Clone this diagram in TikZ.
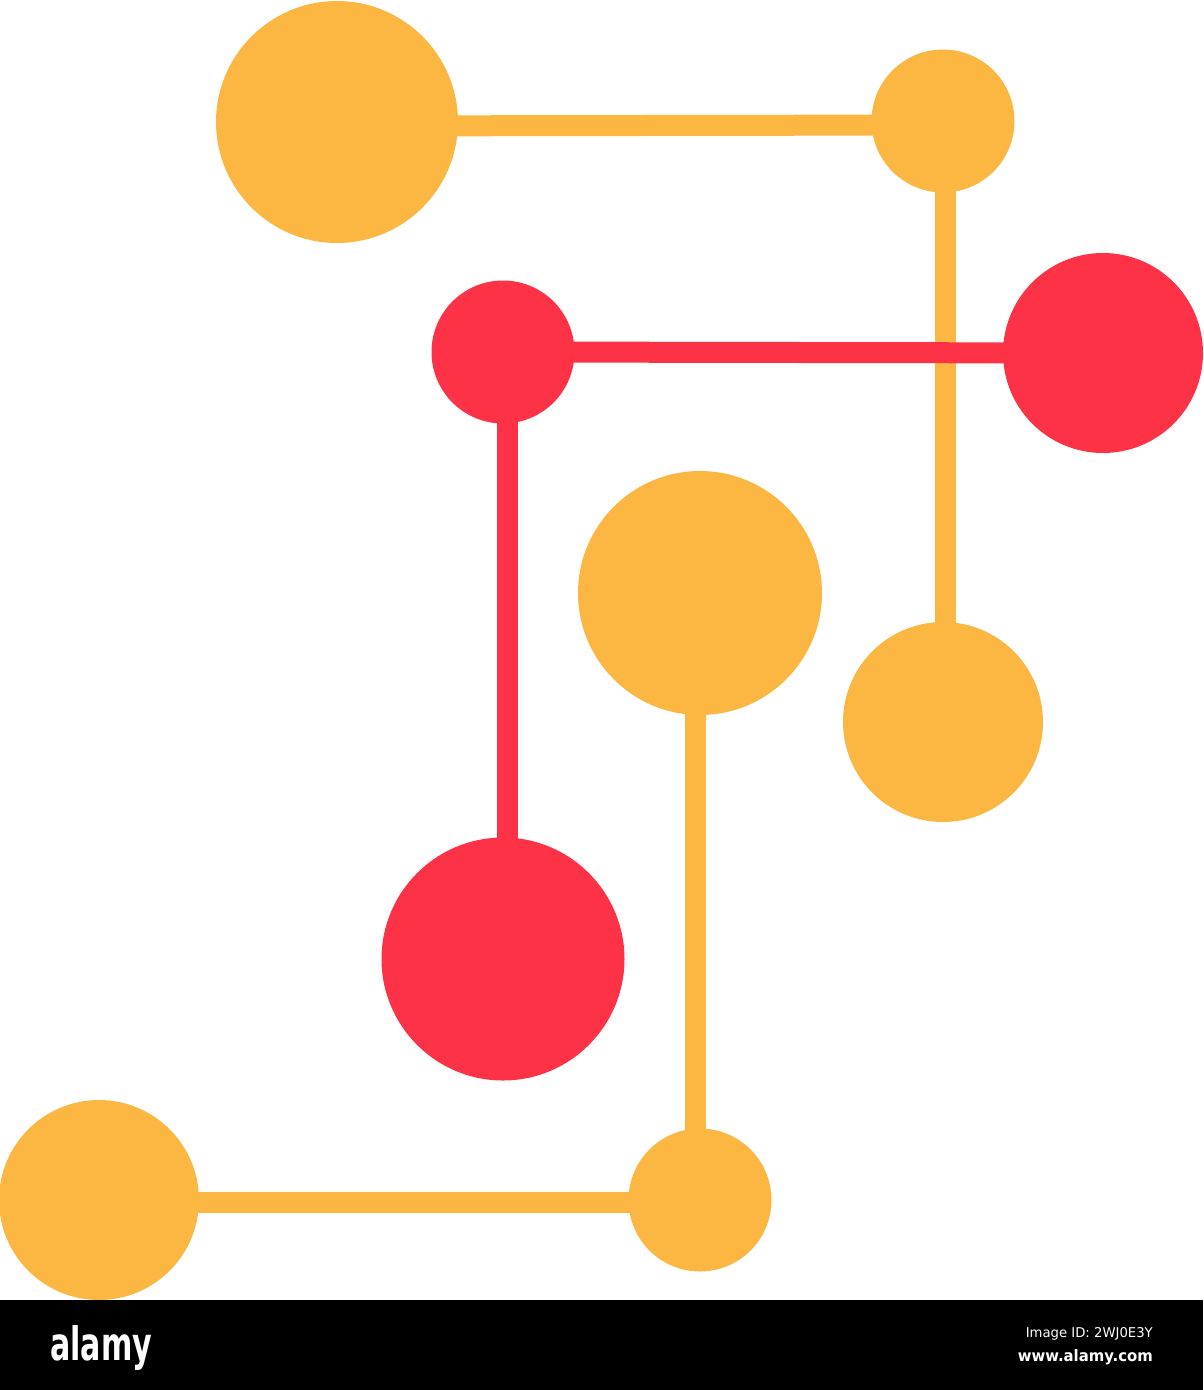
\documentclass[tikz,border=0pt]{standalone}
\usepackage{fontspec}
\usepackage{graphicx}
\newfontfamily\wmfont{DejaVu Sans}
\usetikzlibrary{backgrounds}
\definecolor{dotyellow}{RGB}{252,183,66}
\definecolor{dotred}{RGB}{254,50,70}
\tikzset{
  dot/.style={circle, inner sep=0pt, outer sep=0pt, minimum size=#1},
  ydot/.style={dot=#1, fill=dotyellow},
  rdot/.style={dot=#1, fill=dotred},
  ylink/.style={draw=dotyellow, line width=21pt},
  rlink/.style={draw=dotred, line width=21pt},
}
\begin{document}
\begin{tikzpicture}[x=1pt,y=-1pt]
\useasboundingbox (0,0) rectangle (1203,1390);
% dots
\node[ydot=242pt] (c1) at (337,122) {};
\node[ydot=143pt] (c2) at (943,121) {};
\node[rdot=143pt] (c3) at (503,352) {};
\node[rdot=200pt] (c4) at (1103,353) {};
\node[ydot=244pt] (c5) at (700,593) {};
\node[ydot=200pt] (c6) at (943,722) {};
\node[rdot=243pt] (c7) at (503,959) {};
\node[ydot=200pt] (c8) at (99,1200) {};
\node[ydot=143pt] (c9) at (700,1200) {};
% links
\begin{scope}[on background layer]
\draw[ylink] ([yshift=-4pt]c1.center) -- ([yshift=-4pt]c2.center);
\draw[ylink] ([xshift=2pt]c2.center) -- ([xshift=2pt]c6.center);
\draw[rlink] (c3.center) -- (c4.center);
\draw[rlink] ([xshift=4pt]c3.center) -- ([xshift=4pt]c7.center);
\draw[ylink] ([xshift=-5pt]c5.center) -- ([xshift=-5pt]c9.center);
\draw[ylink] ([yshift=-2pt]c8.center) -- ([yshift=-2pt]c9.center);
\end{scope}
% bottom bar
\fill[black] (0,1300) rectangle (1203,1390);
\node[anchor=base west, inner sep=0pt, text=white] (logo) at (50,1360)
  {\resizebox{102pt}{35pt}{\wmfont\bfseries alamy}};
\node[anchor=base east, inner sep=0pt, text=white] (imgid) at (1153,1337)
  {\resizebox{127pt}{10pt}{\wmfont Image ID: 2WJ0E3Y}};
\node[anchor=base east, inner sep=0pt, text=white] (site) at (1153,1361)
  {\resizebox{135pt}{12pt}{\wmfont\bfseries www.alamy.com}};
\end{tikzpicture}
\end{document}
